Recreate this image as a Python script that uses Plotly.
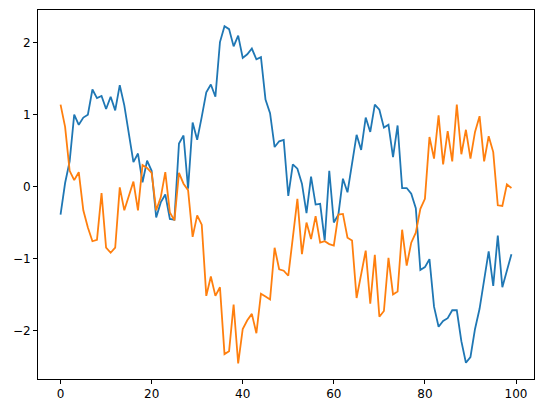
import plotly.graph_objects as go

# two random-walk-like series
steps = list(range(100))

blue = [-0.39, 0.05, 0.35, 1.00, 0.86, 0.96, 1.00, 1.35, 1.23, 1.26,
        1.08, 1.25, 1.06, 1.41, 1.13, 0.73, 0.34, 0.46, 0.06, 0.36,
        0.22, -0.43, -0.22, -0.11, -0.45, -0.46, 0.60, 0.71, -0.03, 0.89,
        0.65, 0.97, 1.31, 1.42, 1.25, 2.01, 2.23, 2.19, 1.95, 2.10,
        1.79, 1.84, 1.92, 1.77, 1.80, 1.21, 1.02, 0.55, 0.63, 0.65,
        -0.13, 0.31, 0.25, 0.04, -0.37, 0.14, -0.25, -0.24, -0.75, 0.22,
        -0.50, -0.39, 0.11, -0.08, 0.32, 0.72, 0.51, 0.96, 0.76, 1.14,
        1.07, 0.82, 0.86, 0.41, 0.85, -0.02, -0.02, -0.10, -0.30, -1.16,
        -1.12, -1.01, -1.67, -1.95, -1.87, -1.83, -1.72, -1.72, -2.15, -2.45,
        -2.37, -1.98, -1.70, -1.32, -0.90, -1.38, -0.68, -1.40, -1.15, -0.94]

orange = [1.14, 0.83, 0.22, 0.09, 0.20, -0.33, -0.57, -0.76, -0.74, -0.09,
          -0.85, -0.92, -0.85, -0.01, -0.33, -0.13, 0.07, -0.33, 0.30, 0.26,
          0.19, -0.33, -0.15, 0.20, -0.36, -0.47, 0.19, 0.04, -0.05, -0.70,
          -0.40, -0.53, -1.52, -1.25, -1.52, -1.40, -2.33, -2.29, -1.64, -2.46,
          -1.98, -1.86, -1.77, -2.04, -1.49, -1.53, -1.57, -0.85, -1.15, -1.17,
          -1.24, -0.71, -0.17, -0.94, -0.50, -0.73, -0.41, -0.78, -0.76, -0.80,
          -0.82, -0.39, -0.38, -0.71, -0.75, -1.55, -1.24, -0.89, -1.63, -0.95,
          -1.81, -1.73, -0.99, -1.50, -1.46, -0.60, -1.10, -0.78, -0.64, -0.31,
          -0.17, 0.69, 0.39, 0.99, 0.31, 0.77, 0.35, 1.14, 0.45, 0.79,
          0.39, 0.76, 0.98, 0.35, 0.70, 0.48, -0.26, -0.27, 0.03, -0.02]

x_ticks = [0, 20, 40, 60, 80, 100]
y_ticks = [-2, -1, 0, 1, 2]

fig = go.Figure()
fig.add_trace(go.Scatter(x=steps, y=blue, mode="lines",
                         line=dict(color="#1f77b4", width=1.8)))
fig.add_trace(go.Scatter(x=steps, y=orange, mode="lines",
                         line=dict(color="#ff7f0e", width=1.8)))

axis_style = dict(
    showgrid=False, zeroline=False,
    showline=True, mirror=True, linecolor="black", linewidth=1,
    ticks="outside", ticklen=4, tickwidth=1, tickcolor="black",
    tickfont=dict(family="DejaVu Sans", size=12, color="black"),
)

fig.update_xaxes(range=[-4.95, 103.95], tickvals=x_ticks, **axis_style)
fig.update_yaxes(range=[-2.676, 2.456], tickvals=y_ticks, **axis_style)

# page body adds an 8px margin, so the figure is a bit smaller than the window
fig.update_layout(
    width=535, height=404,
    margin=dict(l=30, r=9, t=2, b=33),
    plot_bgcolor="white", paper_bgcolor="white",
    showlegend=False,
)

fig.write_html("out.html")
